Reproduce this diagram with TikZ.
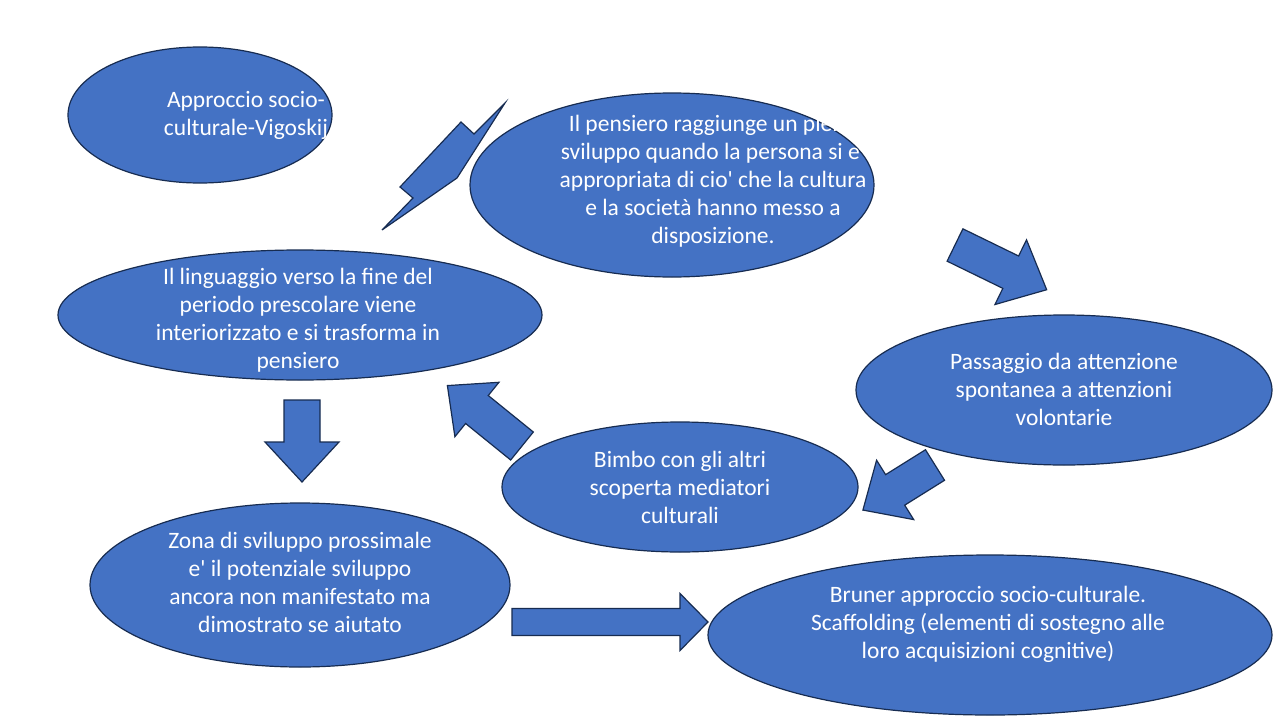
\documentclass[tikz,border=0pt]{standalone}
\usepackage{fontspec}
\setmainfont{Carlito}
\definecolor{fillb}{HTML}{4472C4}
\definecolor{edgeb}{HTML}{172C51}
\tikzset{
 ell/.style={draw=edgeb,fill=fillb,line width=1.2pt},
 txt/.style={text=white,align=center,font=\fontsize{23.5}{28}\selectfont},
}
\newcommand\barr[7]{% x y angle len shaftw headw headlen
 \begin{scope}[shift={(#1,#2)},rotate=#3]
 \draw[ell,line join=miter] (0,-#5/2)--(#4-#7,-#5/2)--(#4-#7,-#6/2)--(#4,0)--(#4-#7,#6/2)--(#4-#7,#5/2)--(0,#5/2)--cycle;
 \end{scope}}
\begin{document}
\begin{tikzpicture}[x=1pt,y=-1pt]
\useasboundingbox (0,0) rectangle (1280,720);
\fill[white] (0,0) rectangle (1280,720);
\draw[ell] (200,115) ellipse[x radius=132,y radius=68];
\node[txt] (t1) at (246,115) {Approccio socio-\\culturale-Vigoskij};
\draw[ell] (672,185) ellipse[x radius=202,y radius=92];
\node[txt] (t2) at (713,181) {Il pensiero raggiunge un pieno\\sviluppo quando la persona si e\textquotesingle\\appropriata di cio\textquotesingle{} che la cultura\\e la società hanno messo a\\disposizione.};
\draw[ell] (300,315) ellipse[x radius=242,y radius=65];
\node[txt] (t3) at (298,320) {Il linguaggio verso la fine del\\periodo prescolare viene\\interiorizzato e si trasforma in\\pensiero};
\draw[ell] (1064,390) ellipse[x radius=208,y radius=75];
\node[txt] (t4) at (1064,389) {Passaggio da attenzione\\spontanea a attenzioni\\volontarie};
\draw[ell] (680,487) ellipse[x radius=178,y radius=65];
\node[txt] (t5) at (680,487) {Bimbo con gli altri\\scoperta mediatori\\culturali};
\draw[ell] (300,585) ellipse[x radius=210,y radius=82];
\node[txt] (t6) at (300,582) {Zona di sviluppo prossimale\\e\textquotesingle{} il potenziale sviluppo\\ancora non manifestato ma\\dimostrato se aiutato};
\draw[ell] (990,635) ellipse[x radius=282,y radius=80];
\node[txt] (t7) at (988,624) {Bruner approccio socio-culturale.\\Scaffolding (elementi di sostegno alle\\loro acquisizioni cognitive)};
\draw[ell,line join=miter] (505,103)--(474,134)--(461,122)--(400,187)--(413,198)--(382,230)--(457,178)--cycle;
\barr{955}{245}{-26}{102}{36}{72}{40}
\barr{935}{465}{212}{85}{36}{70}{38}
\barr{522}{446}{141}{96}{36}{70}{38}
\barr{302}{400}{-90}{82}{36}{74}{40}
\barr{512}{622}{0}{196}{27}{57}{28}
\end{tikzpicture}
\end{document}
